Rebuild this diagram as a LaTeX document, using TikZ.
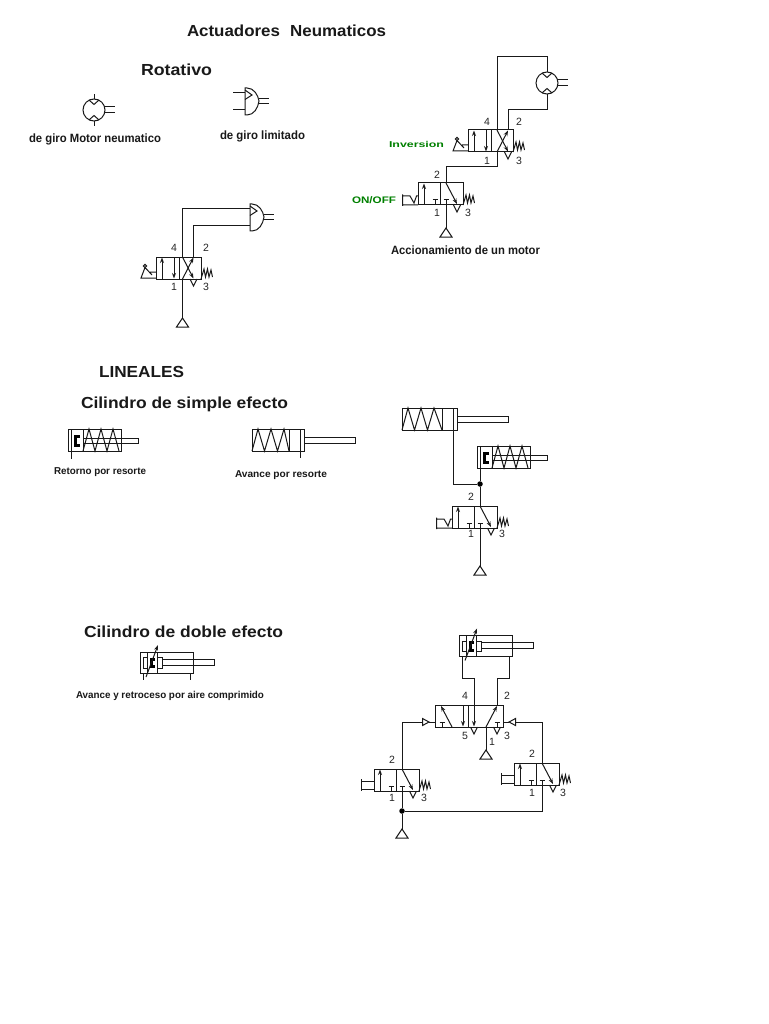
\documentclass[tikz,border=0pt]{standalone}
\usepackage{fontspec}
\setmainfont{Liberation Sans}
\usetikzlibrary{arrows.meta}
\newcommand{\wtxt}[3]{\resizebox{#1pt}{\height}{\fontsize{#2}{#2}\selectfont\bfseries #3}}
\tikzset{
  lin/.style={line width=1pt,black!90,line join=miter},
  pipe/.style={line width=1pt,black!90},
  arr/.style={lin,-{Stealth[length=5.5pt,width=4pt]}},
  txt/.style={inner sep=0pt,outer sep=0pt,anchor=base west,text=black!90},
  grn/.style={txt,text=green!50!black},
  num/.style={inner sep=0pt,outer sep=0pt,anchor=center,font=\fontsize{10.5}{10.5}\selectfont,text=black!85},
  dotj/.style={circle,fill=black,inner sep=0pt,minimum size=5.5pt},
  pics/springr/.style={code={
    \draw[lin] (0,22)--(3,12)--(4.5,20)--(6.5,12)--(8,20)--(10,13)--(11.5,20);}},
  pics/exh/.style={code={
    \draw[lin] (-3.5,0)--(0,7)--(3.5,0);}},
  pics/valveC/.style={code={
    \draw[lin,fill=white] (0,0) rectangle (45,22);
    \draw[lin] (22,0)--(22,22);
    \draw[arr] (6,22)--(6,0.5);
    \draw[lin] (17,22)--(17,17) (14.5,17)--(19.5,17);
    \draw[lin] (28,22)--(28,17) (25.5,17)--(30.5,17);
    \draw[arr] (28,0)--(39,21);
    \pic at (39,22) {exh};
    \pic at (45,0) {springr};
    \coordinate (-p2) at (28,0);
    \coordinate (-p1) at (28,22);}},
  pics/valveB/.style={code={
    \draw[lin,fill=white] (0,0) rectangle (45,22);
    \draw[lin] (23,0)--(23,22);
    \draw[arr] (6,22)--(6,0.5);
    \draw[arr] (18,0)--(18,21.5);
    \draw[arr] (#1,22)--(#1+11,0.5);
    \draw[arr] (#1,0)--(#1+11,21.5);
    \pic at (#1+11,22) {exh};
    \pic at (45,0) {springr};
    \coordinate (-p4) at (#1,0);
    \coordinate (-p2) at (#1+11,0);
    \coordinate (-p1) at (#1,22);}},
  pics/valveE/.style={code={
    \draw[lin,fill=white] (0,0) rectangle (68,22);
    \draw[lin] (33,0)--(33,22);
    \draw[lin] (7,22)--(7,17) (4.5,17)--(9.5,17);
    \draw[arr] (17,22)--(6,1);
    \draw[arr] (28,0)--(28,21.5);
    \draw[arr] (39,0)--(39,21.5);
    \draw[arr] (51,22)--(62,1);
    \draw[lin] (62,22)--(62,17) (59.5,17)--(64.5,17);
    \pic at (39,22) {exh};
    \pic at (62,22) {exh};
    \coordinate (-p4) at (39,0);
    \coordinate (-p2) at (62,0);
    \coordinate (-p1) at (51,22);
    \coordinate (-l) at (0,17);
    \coordinate (-r) at (68,17);}},
  pics/btnpedal/.style={code={
    \draw[lin] (-15.5,11.5)--(-15.5,23) (-15.5,13)--(-8,13)--(-4,20)--(-1.5,13)--(0,13) (-15.5,22)--(0,22);}},
  pics/btnplain/.style={code={
    \draw[lin] (-12.5,10)--(-12.5,21.5) (-12.5,12.5)--(0,12.5) (-12.5,20)--(0,20);}},
  pics/btnroller/.style={code={
    \draw[lin] (-11,9) circle (1.6);
    \draw[lin] (-11,10.5)--(-15,21)--(0,21) (-11,10.5)--(-4,18) (-6,15)--(0,15);}},
  pics/supply/.style={code={
    \draw[lin] (0,0)--(-6,9)--(6,9)--cycle;
    \coordinate (-t) at (0,0);}},
  pics/motor/.style={code={
    \draw[lin] (0,0) circle (11);
    \draw[lin] (-5,-10)--(0,-5.5)--(5,-10);
    \draw[lin] (-5,10)--(0,5.5)--(5,10);
    \draw[lin] (0,-11)--(0,-16) (0,11)--(0,16);
    \draw[lin] (10.5,-3.5)--(21,-3.5) (10.5,3)--(21,3);
    \coordinate (-t) at (0,-16);
    \coordinate (-b) at (0,16);}},
  pics/semirot/.style={code={
    \draw[lin] (0,0)--(2,0) .. controls (9,0) and (13,7) .. (14,13) .. controls (13,20) and (9,27) .. (2,27)--(0,27)--cycle;
    \draw[lin] (0,2)--(7,7)--(0,11.5);
    \draw[lin] (14,10.5)--(24,10.5) (14,16)--(24,16);
    \coordinate (-a) at (0,5);
    \coordinate (-b) at (0,22);}},
  pics/cylR/.style={code={
    \draw[lin] (0,0) rectangle (53,22);
    \draw[lin] (3,0)--(3,22);
    \draw[lin] (15,0)--(15,22);
    \draw[line width=3pt] (12,7)--(7.5,7)--(7.5,16)--(12,16);
    \draw[lin] (15,9)--(70,9)--(70,14.5)--(15,14.5);
    \draw[lin] (15,22)--(21,0)--(27,22)--(33,0)--(39,22)--(45,0)--(51,22);
    \coordinate (-p) at (3,22);}},
  pics/cylA/.style={code={
    \draw[lin] (0,0) rectangle (#1,22);
    \draw[lin] (#1-15,0)--(#1-15,22);
    \draw[lin] (#1-4,0)--(#1-4,22);
    \draw[lin] (#1,8)--(#1+51,8)--(#1+51,14)--(#1,14);
    \draw[lin] (0,22)--(6,0)--(12.5,22)--(19,0)--(25.5,22)--(32,0)--(#1-15,22);
    \coordinate (-p) at (#1-4,22);}},
  pics/cylD/.style={code={
    \draw[lin] (0,0) rectangle (53,21);
    \draw[lin] (7,0)--(7,21) (17,0)--(17,21);
    \draw[lin] (3,5.5) rectangle (7,16);
    \draw[lin] (17,5.5) rectangle (22,16);
    \draw[line width=3pt] (15,7)--(11.5,7)--(11.5,14.5)--(15,14.5);
    \draw[lin] (22,7)--(74,7)--(74,13)--(22,13);
    \draw[arr] (6,25)--(18,-7);
    \coordinate (-pa) at (3.5,21);
    \coordinate (-pb) at (50,21);}},
}
\begin{document}
\begin{tikzpicture}[x=1pt,y=-1pt]
\useasboundingbox[fill=white] (0,0) rectangle (768,1024);

% texts
\node[txt] (t1) at (187,36.5) {\wtxt{199}{16}{Actuadores\hspace{0.6em}Neumaticos}};
\node[txt] (t2) at (141,76) {\wtxt{71}{16}{Rotativo}};
\node[txt] (t3) at (29,143) {\wtxt{132}{12}{de giro Motor neumatico}};
\node[txt] (t4) at (220,140) {\wtxt{85}{12}{de giro limitado}};
\node[txt] (t5) at (391,254) {\wtxt{149}{12}{Accionamiento de un motor}};
\node[grn] (t6) at (389,147.5) {\wtxt{55}{8.5}{Inversion}};
\node[grn] (t7) at (352,204) {\wtxt{44}{9.5}{ON/OFF}};
\node[txt] (t8) at (99,377) {\wtxt{85}{16}{LINEALES}};
\node[txt] (t9) at (81,408) {\wtxt{207}{16}{Cilindro de simple efecto}};
\node[txt] (t10) at (54,474) {\wtxt{92}{10}{Retorno por resorte}};
\node[txt] (t11) at (235,477) {\wtxt{92}{10}{Avance por resorte}};
\node[txt] (t12) at (84,637) {\wtxt{199}{16}{Cilindro de doble efecto}};
\node[txt] (t13) at (76,698) {\wtxt{188}{10}{Avance y retroceso por aire comprimido}};

% stand-alone symbols
\pic (mA) at (94,110) {motor};
\pic (sA) at (245,88) {semirot};
\coordinate (sAa) at (233,93); \coordinate (sAb) at (233,110);
\draw[lin] (sAa)--(sA-a) (sAb)--(sA-b);

% circuit: semi-rotary
\pic (sB) at (250,204) {semirot};
\pic (vB) at (156,257) {valveB=26.5};
\pic at (156,257) {btnroller};
\pic (sup1) at (182.5,318) {supply};
\draw[pipe] (sB-a) -| (vB-p4);
\draw[pipe] (sB-b) -| (vB-p2);
\draw[pipe] (vB-p1) -- (sup1-t);
\node[num] (n1) at (174,248) {4};
\node[num] (n2) at (206,248) {2};
\node[num] (n3) at (174,287) {1};
\node[num] (n4) at (206,287) {3};

% circuit: motor
\pic (mB) at (547,83) {motor};
\pic (vM) at (468,130) {valveB=29};
\pic at (468,130) {btnroller};
\pic (vO) at (418,183) {valveC};
\pic at (418,183) {btnpedal};
\pic (sup2) at (446,228) {supply};
\coordinate (c3) at (497,57); \coordinate (c4) at (508,110); \coordinate (c5) at (446,167);
\draw[pipe] (mB-t) |- (c3) -- (vM-p4);
\draw[pipe] (mB-b) |- (c4) -- (vM-p2);
\draw[pipe] (vM-p1) |- (c5) -- (vO-p2);
\draw[pipe] (vO-p1) -- (sup2-t);
\node[num] (n5) at (487,122) {4};
\node[num] (n6) at (519,122) {2};
\node[num] (n7) at (487,161) {1};
\node[num] (n8) at (519,161) {3};
\node[num] (n9) at (437,175) {2};
\node[num] (n10) at (437,213) {1};
\node[num] (n11) at (468,213) {3};

% simple-effect symbols
\pic (cR) at (68,429) {cylR};
\coordinate (cRs) at (71,459);
\draw[lin] (cR-p) -- (cRs);
\pic (cA) at (252,429) {cylA=52};
\coordinate (cAs) at (300,458);
\draw[lin] (cA-p) -- (cAs);

% simple-effect circuit
\pic (cC) at (402,408) {cylA=55};
\pic (cE) at (477,446) {cylR};
\pic (vS) at (452,506) {valveC};
\pic at (452,506) {btnpedal};
\pic (sup3) at (480,566) {supply};
\node[dotj] (d1) at (480,484) {};
\draw[pipe] (cC-p) |- (d1);
\draw[pipe] (cE-p) -- (d1);
\draw[pipe] (d1) -- (vS-p2);
\draw[pipe] (vS-p1) -- (sup3-t);
\node[num] (n12) at (471,497) {2};
\node[num] (n13) at (471,534) {1};
\node[num] (n14) at (502,534) {3};

% double-effect symbol
\pic (cD) at (140,652) {cylD};
\coordinate (cDa) at (143.5,680); \coordinate (cDb) at (190,680);
\draw[lin] (cD-pa) -- (cDa) (cD-pb) -- (cDb);

% double-effect circuit
\pic (cF) at (459,635.5) {cylD};
\pic (vE) at (435,705) {valveE};
\pic (sup4) at (486,750) {supply};
\coordinate (c6) at (462.5,678); \coordinate (c7) at (474,678);
\coordinate (c8) at (509,678); \coordinate (c9) at (497,678);
\draw[pipe] (cF-pa) -- (c6) -- (c7) -- (vE-p4);
\draw[pipe] (cF-pb) -- (c8) -- (c9) -- (vE-p2);
\draw[pipe] (vE-p1) -- (sup4-t);
% pilots
\coordinate (g1) at (429,722); \coordinate (g2) at (422.5,722);
\coordinate (g3) at (509,722); \coordinate (g4) at (515.5,722);
\draw[lin,fill=white] (g2) ++(0,-3.5) -- (g1) -- (g2 |- 0,725.5) -- cycle;
\draw[lin,fill=white] (g4) ++(0,-3.5) -- (g3) -- (g4 |- 0,725.5) -- cycle;
\draw[pipe] (g1) -- (vE-l);
\draw[pipe] (g3) -- (vE-r);
\pic (vL) at (374,769) {valveC};
\pic at (374,769) {btnplain};
\pic (vR) at (514,763) {valveC};
\pic at (514,763) {btnplain};
\pic (sup5) at (402,829) {supply};
\node[dotj] (d2) at (402,811) {};
\coordinate (c10) at (402,722); \coordinate (c11) at (542,722);
\draw[pipe] (g2) -- (c10) -- (vL-p2);
\draw[pipe] (g4) -- (c11) -- (vR-p2);
\draw[pipe] (vL-p1) -- (d2) -- (sup5-t);
\draw[pipe] (d2) -| (vR-p1);
\node[num] (n15) at (465,696) {4};
\node[num] (n16) at (507,696) {2};
\node[num] (n17) at (465,736) {5};
\node[num] (n18) at (507,736) {3};
\node[num] (n19) at (492,742) {1};
\node[num] (n20) at (392,760) {2};
\node[num] (n21) at (392,798) {1};
\node[num] (n22) at (424,798) {3};
\node[num] (n23) at (532,754) {2};
\node[num] (n24) at (532,793) {1};
\node[num] (n25) at (563,793) {3};
\end{tikzpicture}
\end{document}
